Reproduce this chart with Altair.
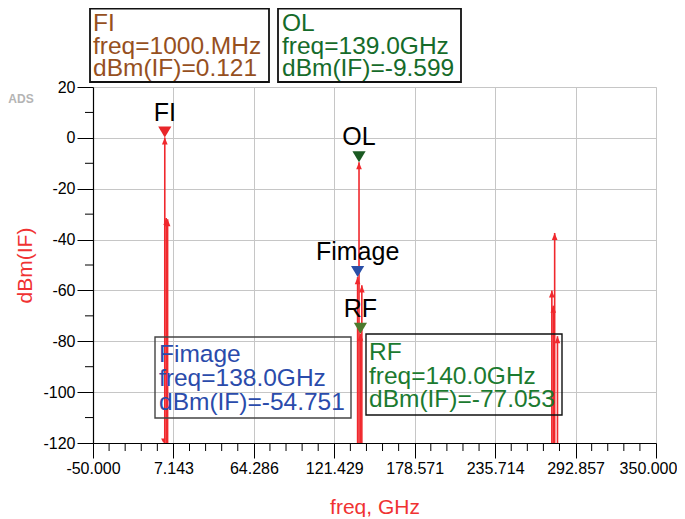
import altair as alt
import pandas as pd

# ---- data ----
spike_freq = [1, 2, 3, 138, 139, 140, 141, 276, 277, 278, 280]
spike_dbm = [0.121, -31.5, -32.0, -54.751, -9.599, -77.053, -58.0, -60.0, -66.0, -37.4, -78.0]
below_freq = [0]          # DC line that falls below the -120 floor

marker_names = ["FI", "OL", "Fimage", "RF"]
marker_freq = [1, 139, 138, 140]
marker_dbm = [0.121, -9.599, -54.751, -77.053]
marker_colors = ["#e8262a", "#1b5a22", "#2a4fa8", "#4c7a2c"]

readout_freq = ["1000.MHz", "139.0GHz", "138.0GHz", "140.0GHz"]
readout_val = ["0.121", "-9.599", "-54.751", "-77.053"]
readout_colors = ["#96501e", "#156b2a", "#2a4bab", "#1b7a30"]

x_ticks = [-50.0, 7.142857, 64.285714, 121.428571, 178.571429, 235.714286, 292.857143, 350.0]
y_ticks = [20, 0, -20, -40, -60, -80, -100, -120]
y_minor = [10, -10, -30, -50, -70, -90, -110]
x_minor = [a + (b - a) * k / 5 for a, b in zip(x_ticks[:-1], x_ticks[1:]) for k in range(1, 5)]

RED = "#f0282d"
FONT = "Liberation Sans"
W, H = 563, 356
HYPHEN = "replace(datum.label, '\u2212', '-')"

xs = alt.Scale(domain=[-50, 350], nice=False, zero=False)
ys = alt.Scale(domain=[-120, 20], nice=False, zero=False)

xaxis = alt.Axis(values=x_ticks, format=".3f", labelExpr=HYPHEN, title="freq, GHz", grid=True,
                 gridColor="#c6c6c6", gridWidth=1, tickSize=15, tickColor="black",
                 domainColor="black", domainWidth=1.2, labelFontSize=16, labelColor="black",
                 labelPadding=2, labelFlush=False, labelFont=FONT, titleFont=FONT,
                 labelOffset={"condition": {"test": "datum.value >= 349", "value": -8}, "value": 0},
                 titleFontSize=21, titleFontWeight="normal", titleColor="#f03232",
                 titlePadding=20)
yaxis = alt.Axis(values=y_ticks, labelExpr=HYPHEN, title="dBm(IF)", grid=True, gridColor="#c6c6c6",
                 gridWidth=1, tickSize=16, tickColor="black", domainColor="black",
                 domainWidth=1.2, labelFontSize=16, labelColor="black", labelPadding=2,
                 labelFont=FONT, titleFont=FONT, titleFontSize=21, titleFontWeight="normal",
                 titleColor="#f03232", titlePadding=7)

spikes = pd.DataFrame({"freq": spike_freq, "dbm": spike_dbm})
markers = pd.DataFrame({"name": marker_names, "freq": marker_freq, "dbm": marker_dbm})

lines = alt.Chart(spikes).mark_rule(color=RED, strokeWidth=1.6).encode(
    x=alt.X("freq:Q", scale=xs, axis=xaxis),
    y=alt.Y("dbm:Q", scale=ys, axis=yaxis),
    y2=alt.datum(-120),
)

heads = alt.Chart(spikes).mark_point(
    shape="M-0.4,1L0.4,1L0,0Z", size=200, filled=True, color=RED, opacity=1, strokeWidth=0
).encode(x="freq:Q", y="dbm:Q")

below = alt.Chart(pd.DataFrame({"freq": below_freq})).mark_point(
    shape="M-0.5,-1L0.5,-1L0,0Z", size=80, filled=True, color=RED, opacity=1, strokeWidth=0
).encode(x="freq:Q", y=alt.datum(-120))

xminor = alt.Chart(pd.DataFrame({"freq": x_minor})).mark_rule(color="black", strokeWidth=1).encode(
    x="freq:Q", y=alt.value(H), y2=alt.value(H + 8))
yminor = alt.Chart(pd.DataFrame({"dbm": y_minor})).mark_rule(color="black", strokeWidth=1).encode(
    y="dbm:Q", x=alt.value(-8), x2=alt.value(0))

mk = alt.Chart(markers).mark_point(
    shape="M-0.6,-1L0.6,-1L0,0Z", size=484, filled=True, opacity=1, strokeWidth=0
).encode(
    x="freq:Q", y="dbm:Q",
    color=alt.Color("name:N", scale=alt.Scale(domain=marker_names, range=marker_colors), legend=None),
)
mk_text = alt.Chart(markers).mark_text(
    dy=-25, fontSize=25, font=FONT, color="black", baseline="middle", align="center"
).encode(x="freq:Q", y="dbm:Q", text="name:N")

ads = alt.Chart(pd.DataFrame({"t": ["ADS"]})).mark_text(
    font=FONT, fontSize=12, fontWeight="bold", color="#b4b4b4", align="center", baseline="middle"
).encode(x=alt.value(-72), y=alt.value(12), text="t:N")


def readout(i, box, tx, baselines, stroke, sw, fs):
    src = pd.DataFrame({"name": [marker_names[i]]})
    left, top, right, bottom = box
    rect = alt.Chart(src).mark_rect(fillOpacity=0, stroke=stroke, strokeWidth=sw).encode(
        x=alt.value(left), x2=alt.value(right), y=alt.value(top), y2=alt.value(bottom))
    texts = [marker_names[i], "freq=" + readout_freq[i], "dBm(IF)=" + readout_val[i]]
    layers = [rect]
    for t, b in zip(texts, baselines):
        layers.append(alt.Chart(src).mark_text(
            font=FONT, fontSize=fs, color=readout_colors[i], align="left", baseline="alphabetic"
        ).encode(x=alt.value(tx), y=alt.value(b), text=alt.value(t)))
    return layers


boxes = []
boxes += readout(0, (-3, -78.5, 176, -5), 0, [-56, -33.5, -11], "#111", 1.8, 24.5)
boxes += readout(1, (185, -78.5, 368, -5), 189, [-56, -33.5, -11], "#111", 1.8, 24.5)
boxes += readout(2, (62, 250, 258, 331), 66, [275, 299, 323], "#444", 1.4, 24.5)
boxes += readout(3, (273, 247, 469, 328), 276, [273, 297, 320], "#111", 1.4, 24.5)

chart = alt.layer(lines, xminor, yminor, *boxes, heads, below, mk, mk_text, ads).properties(
    width=W, height=H,
    padding={"left": 85, "top": 79, "right": 21, "bottom": 74},
    autosize="none",
).configure_view(stroke="#222", strokeWidth=1.2).configure(font=FONT)

chart.save("out.html", embed_options={"renderer": "svg", "actions": False})
